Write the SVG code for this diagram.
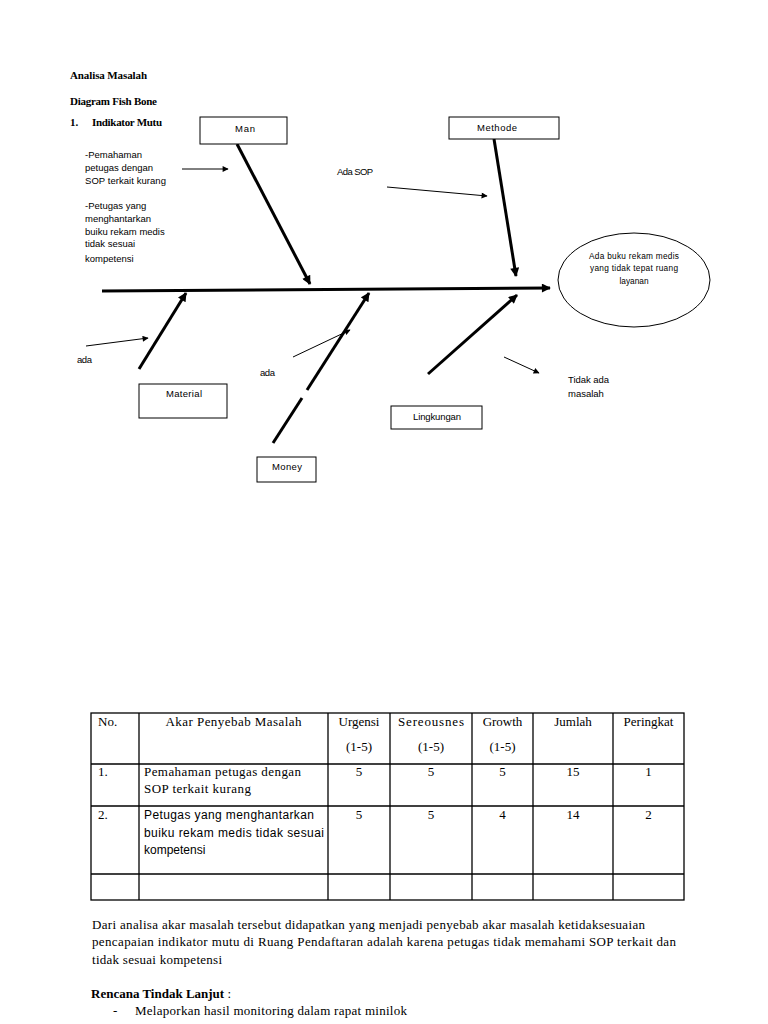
<svg xmlns="http://www.w3.org/2000/svg" width="768" height="1024" viewBox="0 0 768 1024">
<style>
  .hd { font-family: "Liberation Serif", "Times New Roman", serif; font-weight: bold; font-size: 11px; fill: #000; }
  .sn { font-family: "Liberation Sans", Arial, sans-serif; font-size: 9.5px; fill: #000; }
  .el { font-family: "Liberation Sans", Arial, sans-serif; font-size: 8.3px; fill: #000; }
  .box { fill: #fff; stroke: #000; stroke-width: 1; }
  .bone { stroke: #000; stroke-width: 3; fill: none; }
  .thin { stroke: #000; stroke-width: 1; fill: none; }
  .tb { font-family: "Liberation Serif", "Times New Roman", serif; font-size: 13px; fill: #000; }
  .ts { font-family: "Liberation Sans", Arial, sans-serif; font-size: 12px; fill: #000; }
  .grid { stroke: #000; stroke-width: 1.3; fill: none; }
  .para { font-family: "Liberation Serif", "Times New Roman", serif; font-size: 13px; fill: #000; }
</style>
<defs>
  <marker id="bigHead" viewBox="0 0 10 10" refX="9" refY="5" markerWidth="10" markerHeight="9" markerUnits="userSpaceOnUse" orient="auto">
    <path d="M0,0 L10,5 L0,10 z" fill="#000"/>
  </marker>
  <marker id="smallHead" viewBox="0 0 10 10" refX="9" refY="5" markerWidth="7" markerHeight="6" markerUnits="userSpaceOnUse" orient="auto">
    <path d="M0,0 L10,5 L0,10 z" fill="#000"/>
  </marker>
</defs>
<rect width="768" height="1024" fill="#fff"/>

<!-- headings -->
<text class="hd" x="70" y="79" textLength="77">Analisa Masalah</text>
<text class="hd" x="70" y="105" textLength="87">Diagram Fish Bone</text>
<text class="hd" x="70" y="126">1.</text>
<text class="hd" x="92" y="126" textLength="70">Indikator Mutu</text>

<!-- connectors -->
<g id="connectors">
  <line class="bone" x1="102" y1="291" x2="550" y2="288" marker-end="url(#bigHead)"/>
  <line class="bone" x1="237" y1="144" x2="310" y2="284" marker-end="url(#bigHead)"/>
  <line class="bone" x1="494" y1="139" x2="516" y2="276" marker-end="url(#bigHead)"/>
  <line class="bone" x1="139" y1="369" x2="186" y2="293" marker-end="url(#bigHead)"/>
  <line class="bone" x1="273" y1="443" x2="302" y2="398"/>
  <line class="bone" x1="307" y1="390" x2="369" y2="293" marker-end="url(#bigHead)"/>
  <line class="bone" x1="428" y1="374" x2="517" y2="295" marker-end="url(#bigHead)"/>
  <line class="thin" x1="182" y1="169" x2="228" y2="169" marker-end="url(#smallHead)"/>
  <line class="thin" x1="387" y1="187" x2="487" y2="196" marker-end="url(#smallHead)"/>
  <line class="thin" x1="86" y1="346" x2="148" y2="338" marker-end="url(#smallHead)"/>
  <line class="thin" x1="293" y1="357" x2="350" y2="330" marker-end="url(#smallHead)"/>
  <line class="thin" x1="504" y1="357" x2="539" y2="373" marker-end="url(#smallHead)"/>
</g>

<!-- nodes -->
<g id="man">
  <rect class="box" x="200" y="117" width="87" height="27"/>
  <text class="sn" x="245" y="132" text-anchor="middle" textLength="20">Man</text>
</g>
<g id="methode">
  <rect class="box" x="449" y="117" width="110" height="22"/>
  <text class="sn" x="497" y="131" text-anchor="middle" textLength="40">Methode</text>
</g>
<g id="effect">
  <ellipse cx="634" cy="280" rx="76" ry="47" fill="#fff" stroke="#000" stroke-width="1"/>
  <text class="el" x="634" y="259" text-anchor="middle" textLength="90">Ada buku rekam medis</text>
  <text class="el" x="634" y="271" text-anchor="middle" textLength="88">yang tidak tepat ruang</text>
  <text class="el" x="634" y="284" text-anchor="middle">layanan</text>
</g>
<g id="material">
  <rect class="box" x="139" y="384" width="88" height="34"/>
  <text class="sn" x="184" y="397" text-anchor="middle" textLength="36">Material</text>
</g>
<g id="money">
  <rect class="box" x="257" y="457" width="59" height="25"/>
  <text class="sn" x="287" y="470" text-anchor="middle" textLength="30">Money</text>
</g>
<g id="lingkungan">
  <rect class="box" x="391" y="406" width="91" height="23"/>
  <text class="sn" x="437" y="420" text-anchor="middle" textLength="48">Lingkungan</text>
</g>

<!-- cause labels -->
<g id="man-causes">
  <text class="sn" x="85" y="158">-Pemahaman</text>
  <text class="sn" x="85" y="171">petugas dengan</text>
  <text class="sn" x="85" y="184" textLength="81">SOP terkait kurang</text>
  <text class="sn" x="85" y="209">-Petugas yang</text>
  <text class="sn" x="85" y="222">menghantarkan</text>
  <text class="sn" x="85" y="235">buiku rekam medis</text>
  <text class="sn" x="85" y="247">tidak sesuai</text>
  <text class="sn" x="85" y="262">kompetensi</text>
</g>
<text class="sn" x="337" y="175" textLength="36">Ada SOP</text>
<text class="sn" x="77" y="363" textLength="15">ada</text>
<text class="sn" x="260" y="376" textLength="15">ada</text>
<text class="sn" x="568" y="383" textLength="41">Tidak ada</text>
<text class="sn" x="568" y="397">masalah</text>

<!-- table -->
<g id="table">
  <rect class="grid" x="91" y="713" width="593" height="187"/>
  <line class="grid" x1="91" y1="764" x2="684" y2="764"/>
  <line class="grid" x1="91" y1="806" x2="684" y2="806"/>
  <line class="grid" x1="91" y1="874" x2="684" y2="874"/>
  <line class="grid" x1="139" y1="713" x2="139" y2="900"/>
  <line class="grid" x1="328" y1="713" x2="328" y2="900"/>
  <line class="grid" x1="390" y1="713" x2="390" y2="900"/>
  <line class="grid" x1="472" y1="713" x2="472" y2="900"/>
  <line class="grid" x1="533" y1="713" x2="533" y2="900"/>
  <line class="grid" x1="613" y1="713" x2="613" y2="900"/>

  <text class="tb" x="98" y="726">No.</text>
  <text class="tb" x="233.5" y="726" text-anchor="middle" textLength="136">Akar Penyebab Masalah</text>
  <text class="tb" x="359" y="726" text-anchor="middle">Urgensi</text>
  <text class="tb" x="359" y="751" text-anchor="middle">(1-5)</text>
  <text class="tb" x="431" y="726" text-anchor="middle" textLength="66">Sereousnes</text>
  <text class="tb" x="431" y="751" text-anchor="middle">(1-5)</text>
  <text class="tb" x="502.5" y="726" text-anchor="middle">Growth</text>
  <text class="tb" x="502.5" y="751" text-anchor="middle">(1-5)</text>
  <text class="tb" x="573" y="726" text-anchor="middle">Jumlah</text>
  <text class="tb" x="648.5" y="726" text-anchor="middle">Peringkat</text>

  <text class="tb" x="98" y="776">1.</text>
  <text class="tb" x="144" y="776" textLength="157">Pemahaman petugas dengan</text>
  <text class="tb" x="144" y="793" textLength="107">SOP terkait kurang</text>
  <text class="tb" x="359" y="776" text-anchor="middle">5</text>
  <text class="tb" x="431" y="776" text-anchor="middle">5</text>
  <text class="tb" x="502.5" y="776" text-anchor="middle">5</text>
  <text class="tb" x="573" y="776" text-anchor="middle">15</text>
  <text class="tb" x="648.5" y="776" text-anchor="middle">1</text>

  <text class="tb" x="98" y="819">2.</text>
  <text class="ts" x="144" y="819" textLength="170">Petugas yang menghantarkan</text>
  <text class="ts" x="144" y="837" textLength="180">buiku rekam medis tidak sesuai</text>
  <text class="ts" x="144" y="854">kompetensi</text>
  <text class="tb" x="359" y="819" text-anchor="middle">5</text>
  <text class="tb" x="431" y="819" text-anchor="middle">5</text>
  <text class="tb" x="502.5" y="819" text-anchor="middle">4</text>
  <text class="tb" x="573" y="819" text-anchor="middle">14</text>
  <text class="tb" x="648.5" y="819" text-anchor="middle">2</text>
</g>

<!-- paragraph -->
<text class="para" x="92" y="929" textLength="553">Dari analisa akar masalah tersebut didapatkan yang menjadi penyebab akar masalah ketidaksesuaian</text>
<text class="para" x="92" y="946" textLength="584">pencapaian indikator mutu di Ruang Pendaftaran  adalah karena petugas tidak memahami SOP terkait dan</text>
<text class="para" x="92" y="964" textLength="130">tidak sesuai kompetensi</text>
<text class="para" x="91" y="998" font-size="14"><tspan font-weight="bold">Rencana Tindak Lanjut</tspan> :</text>
<text class="para" x="113" y="1015">-</text>
<text class="para" x="135" y="1015" textLength="272">Melaporkan hasil monitoring dalam rapat minilok</text>
</svg>
